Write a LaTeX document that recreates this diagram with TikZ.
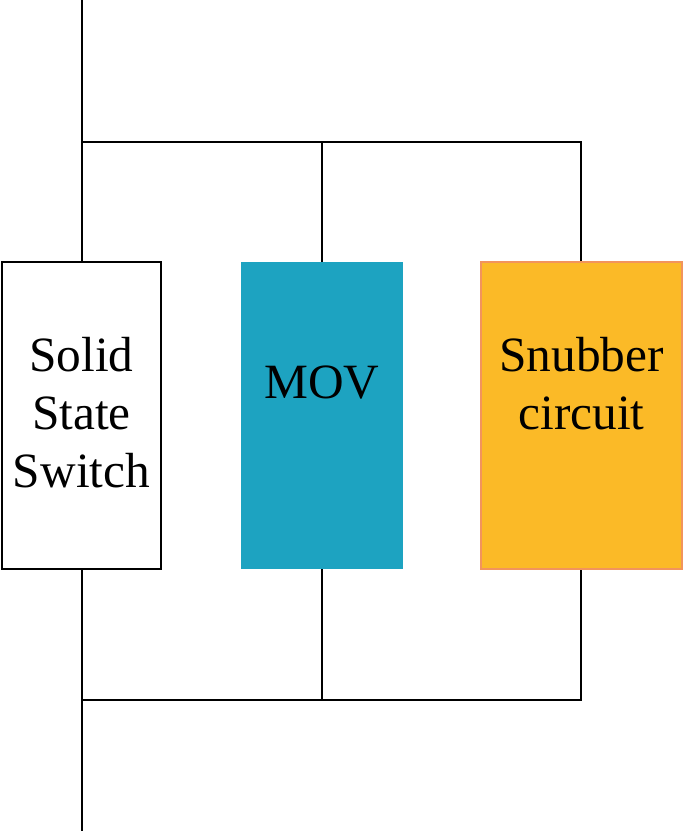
\documentclass[tikz,border=0pt]{standalone}
\usepackage{fontspec}
\setmainfont{Liberation Serif}
\definecolor{MOVBlue}{HTML}{1DA3C1}
\definecolor{SnubFill}{HTML}{FBBA27}
\definecolor{SnubLine}{HTML}{F2945C}
\tikzset{
  blk/.style={minimum width=#1*0.75pt,minimum height=230.25pt,inner sep=0pt},
  wire/.style={line width=2.2pt},
  lbl/.style={align=center,font=\fontsize{37}{43.5}\selectfont}
}

\begin{document}
\begin{tikzpicture}[x=0.75pt,y=-0.75pt]
\path[use as bounding box] (0,0) rectangle (685,831);
% bus nodes
\coordinate (top) at (82,0);
\coordinate (bot) at (82,831);
\coordinate (tl) at (82,142);
\coordinate (tm) at (322,142);
\coordinate (tr) at (581,142);
\coordinate (bl) at (82,700);
\coordinate (bm) at (322,700);
\coordinate (br) at (581,700);
% branches
\node[blk=159,draw,line width=2.2pt,fill=white] (ssw) at (81.5,415.5) {};
\node[blk=162,fill=MOVBlue] (mov) at (322,415.5) {};
\node[blk=201,fill=SnubFill,draw=SnubLine,line width=1.8pt] (snub) at (581.5,415.5) {};
\node[lbl] (sswtxt) at (81.5,413) {Solid\\State\\Switch};
\node[lbl] (movtxt) at (322,383) {MOV};
\node[lbl] (snubtxt) at (581.5,384) {Snubber\\circuit};
% wiring
\draw[wire] (top) -- (top |- ssw.north);
\draw[wire] (bot |- ssw.south) -- (bot);
\draw[wire] (tl) -- (tr) -- (tr |- snub.north);
\draw[wire] (tm) -- (mov.north);
\draw[wire] (bl) -- (br) -- (br |- snub.south);
\draw[wire] (bm) -- (mov.south);
\end{tikzpicture}
\end{document}
